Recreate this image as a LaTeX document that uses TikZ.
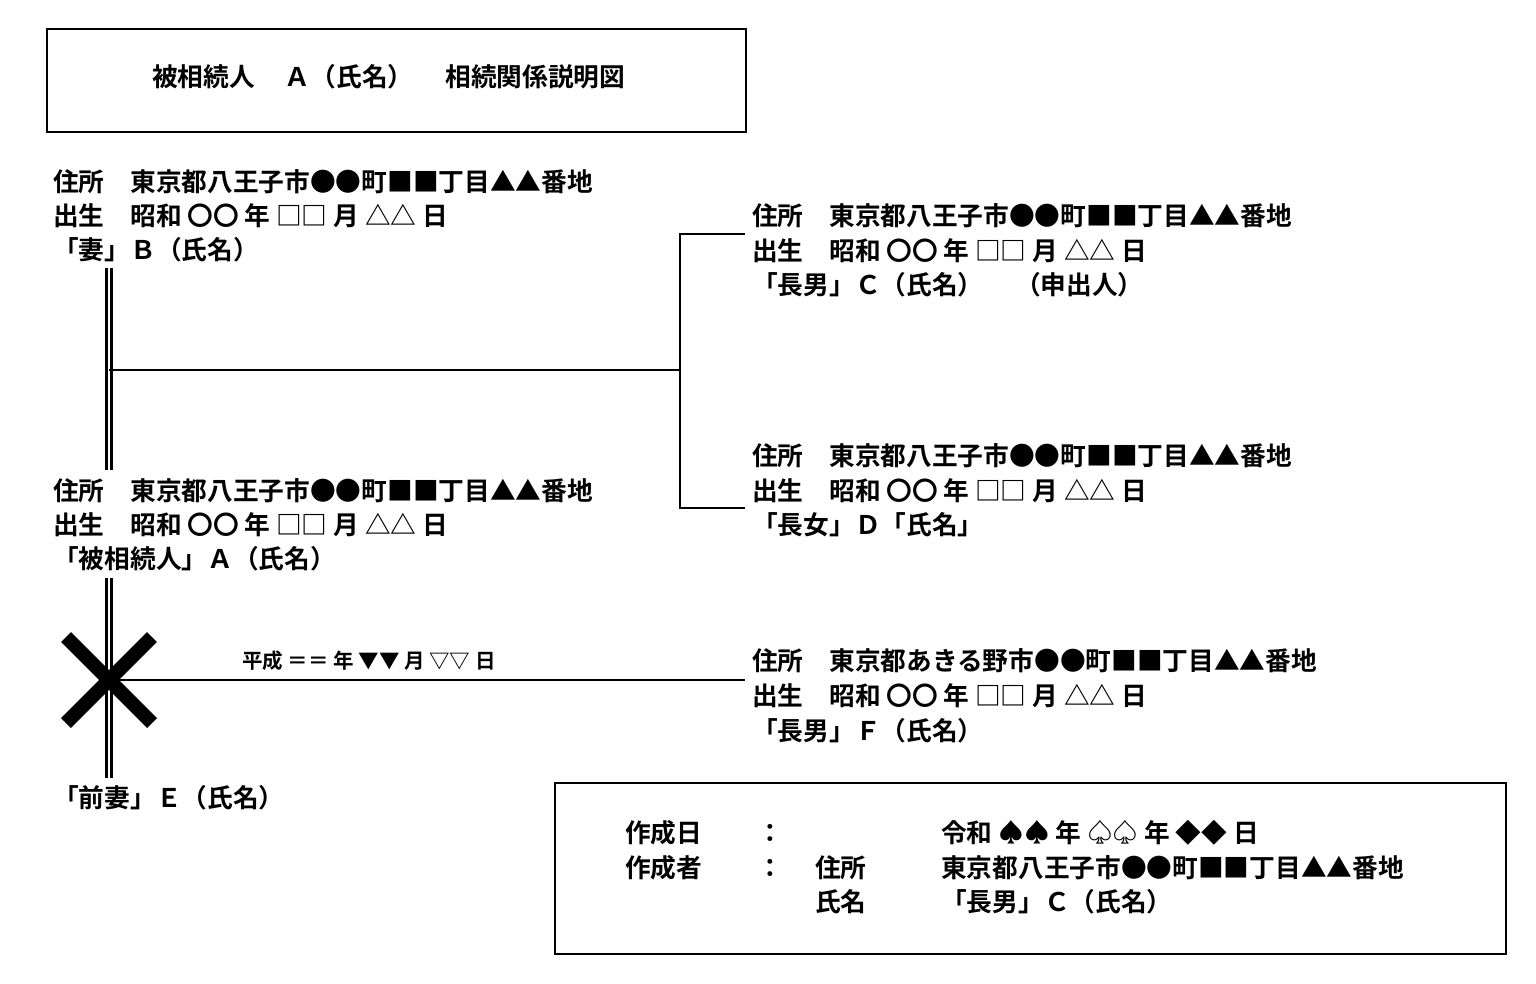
\documentclass[tikz,border=0pt]{standalone}
\usepackage{fontspec}
\usetikzlibrary{calc}
\setmainfont{Noto Sans CJK JP}[BoldFont={Noto Sans CJK JP Bold}]
\begin{document}
\begin{tikzpicture}[x=1pt,y=-1pt,
  t/.style={anchor=west,inner sep=0pt,font=\fontsize{25.7}{26}\selectfont\bfseries},
  ts/.style={anchor=west,inner sep=0pt,font=\fontsize{20.5}{21}\selectfont\bfseries},
  ln/.style={line width=2pt},
  dbl/.style={double distance=2.5pt,line width=2.5pt}]
\useasboundingbox (0,0) rectangle (1536,983);
\node[draw,ln,minimum width=699,minimum height=103,anchor=north west] (title) at (46,28) {};
\node[t] (tt) at (152,77) {被相続人\hspace{30pt}Ａ（氏名）\hspace{32pt}相続関係説明図};
% wife B
\node[t] (b1) at (53,182) {住所　東京都八王子市●●町■■丁目▲▲番地};
\node[t] (b2) at (53,216) {出生　昭和 〇〇 年 □□ 月 △△ 日};
\node[t] (b3) at (53,250) {「妻」Ｂ（氏名）};
% A
\node[t] (a1) at (53,491) {住所　東京都八王子市●●町■■丁目▲▲番地};
\node[t] (a2) at (53,525) {出生　昭和 〇〇 年 □□ 月 △△ 日};
\node[t] (a3) at (53,559) {「被相続人」Ａ（氏名）};
% C
\node[t] (c1) at (752,216) {住所　東京都八王子市●●町■■丁目▲▲番地};
\node[t] (c2) at (752,251) {出生　昭和 〇〇 年 □□ 月 △△ 日};
\node[t] (c3) at (752,285) {「長男」Ｃ（氏名）　 （申出人）};
% D
\node[t] (d1) at (752,456) {住所　東京都八王子市●●町■■丁目▲▲番地};
\node[t] (d2) at (752,491) {出生　昭和 〇〇 年 □□ 月 △△ 日};
\node[t] (d3) at (752,525) {「長女」Ｄ「氏名」};
% F
\node[t] (f1) at (752,661) {住所　東京都あきる野市●●町■■丁目▲▲番地};
\node[t] (f2) at (752,696) {出生　昭和 〇〇 年 □□ 月 △△ 日};
\node[t] (f3) at (752,731) {「長男」Ｆ（氏名）};
% E
\node[t] (e1) at (53,798) {「前妻」Ｅ（氏名）};
\node[ts] (div) at (242,661) {平成 ＝＝ 年 ▼▼ 月 ▽▽ 日};
% lines
\coordinate (bt) at (109,268);
\coordinate (bb) at (109,470);
\coordinate (m) at (109,370);
\coordinate (j) at (680,370);
\coordinate (jt) at (680,234);
\coordinate (jb) at (680,508);
\coordinate (ct) at (745,234);
\coordinate (db) at (745,508);
\draw[dbl] (bt) -- (bb);
\draw[ln] (m) -- (j);
\draw[ln] (ct) -- (jt) -- (jb) -- (db);
\coordinate (at) at (109,578);
\coordinate (ab) at (109,778);
\coordinate (x) at (109,680);
\coordinate (fe) at (745,680);
\draw[dbl] (at) -- (ab);
\draw[ln] (x) -- (fe);
\draw[line width=14pt] ($(x)+(-43,-43)$) -- ($(x)+(43,43)$) ($(x)+(43,-43)$) -- ($(x)+(-43,43)$);
% bottom box
\node[draw,ln,minimum width=951,minimum height=171,anchor=north west] (box) at (554,782) {};
\node[t] (p1) at (625,833) {作成日};
\node[t] (p2) at (625,868) {作成者};
\node[t] (c1a) at (757,833) {：};
\node[t] (c2a) at (757,868) {：};
\node[t] (q2) at (815,868) {住所};
\node[t] (q3) at (815,902) {氏名};
\node[t] (r1) at (941,833) {令和 ♠♠ 年 ♤♤ 年 ◆◆ 日};
\node[t] (r2) at (941,868) {東京都八王子市●●町■■丁目▲▲番地};
\node[t] (r3) at (941,902) {「長男」Ｃ（氏名）};
\end{tikzpicture}
\end{document}
